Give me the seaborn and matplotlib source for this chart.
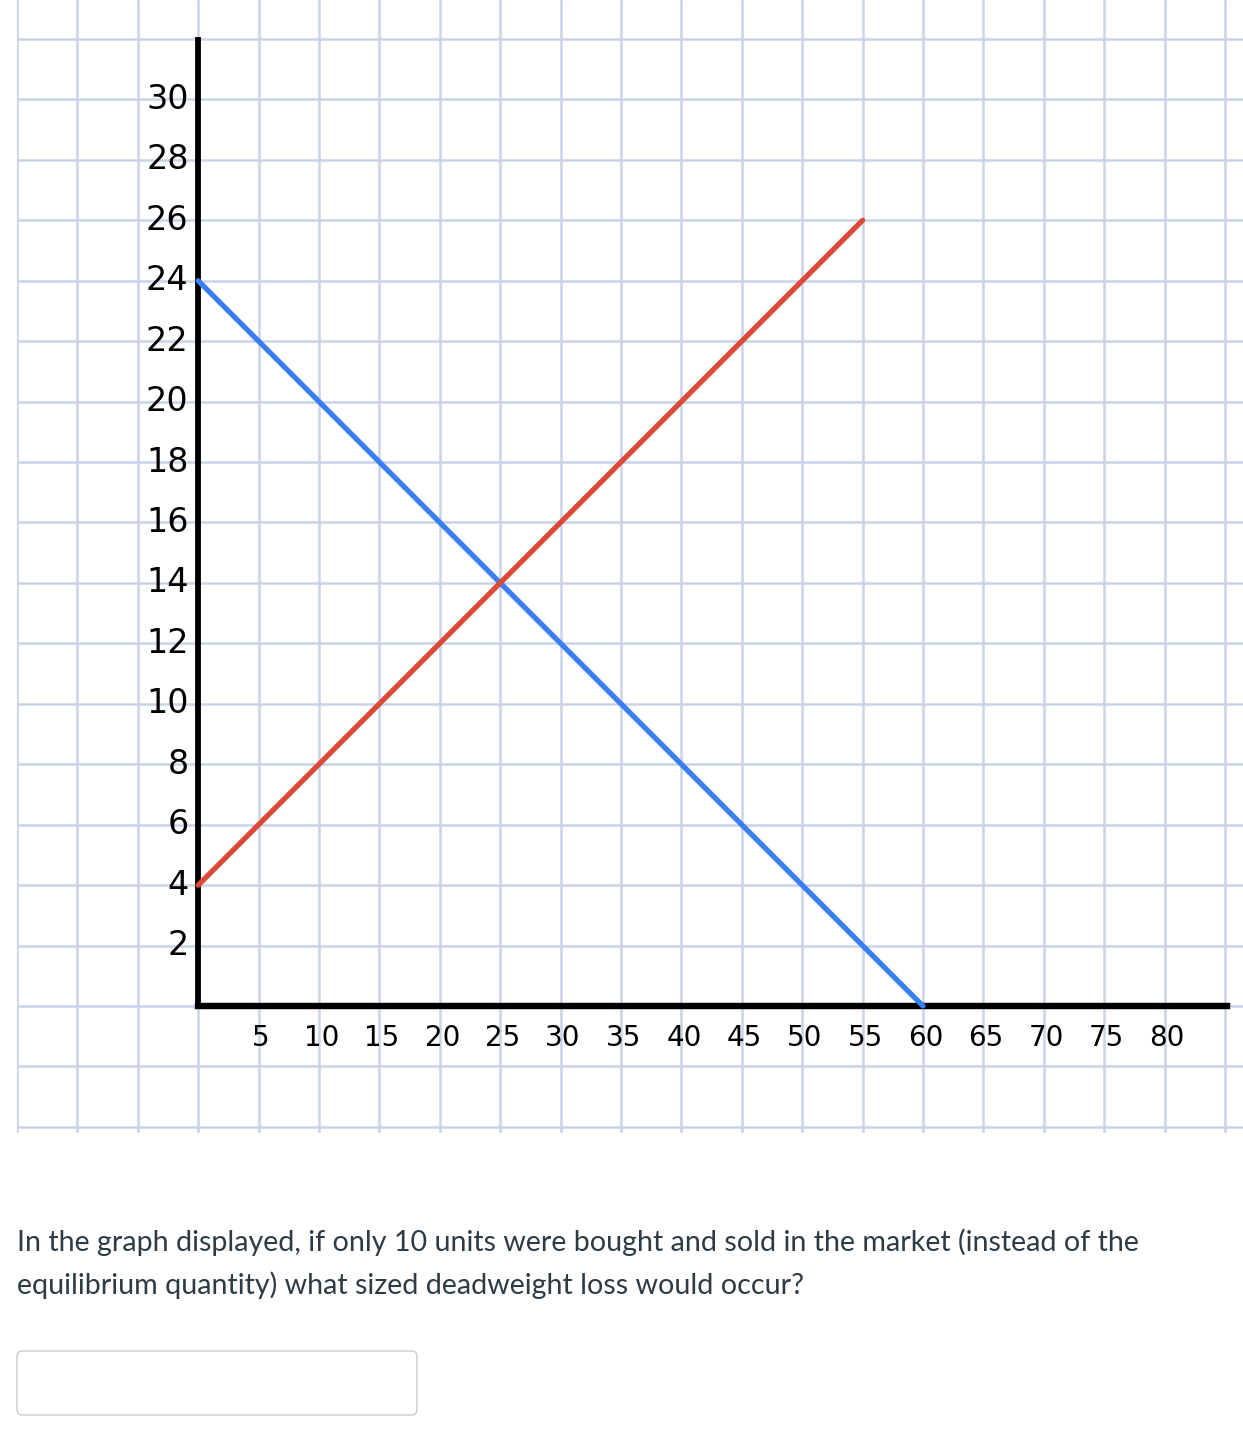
import numpy as np
import pandas as pd
import matplotlib
matplotlib.use("Agg")
import matplotlib.pyplot as plt
import seaborn as sns
from matplotlib.patches import FancyBboxPatch

# ------------------------------
# Data
# ------------------------------
demand_q = [0, 60]
demand_p = [24, 0]
supply_q = [0, 55]
supply_p = [4, 26]

x_ticks = [5, 10, 15, 20, 25, 30, 35, 40, 45, 50, 55, 60, 65, 70, 75, 80]
x_labels = [str(v) for v in x_ticks]
y_ticks = [2, 4, 6, 8, 10, 12, 14, 16, 18, 20, 22, 24, 26, 28, 30]
y_labels = [str(v) for v in y_ticks]

question = ("In the graph displayed, if only 10 units were bought and sold in the market (instead of the\n"
            "equilibrium quantity) what sized deadweight loss would occur?")

df = pd.concat([
    pd.DataFrame({"q": demand_q, "p": demand_p, "curve": "Demand"}),
    pd.DataFrame({"q": supply_q, "p": supply_p, "curve": "Supply"}),
], ignore_index=True)

# ------------------------------
# Figure / grid paper
# ------------------------------
sns.set_style("white")
W, H = 1243, 1432
fig = plt.figure(figsize=(W / 100, H / 100), dpi=100)

# axes covers the grid paper area (pixel box 17..1243 x 0..1133)
ax = fig.add_axes([17 / W, 1 - 1133 / H, (W - 17) / W, 1133 / H])
px_x = 60.4 / 5     # pixels per unit of quantity
px_y = 60.44 / 2    # pixels per unit of price
x0_px, y0_px = 198.2, 1006
ax.set_xlim((17 - x0_px) / px_x, (W - x0_px) / px_x)
ax.set_ylim(-(1133 - y0_px) / px_y, y0_px / px_y)

ax.set_xticks(np.arange(-15, 90, 5))
ax.set_yticks(np.arange(-4, 34, 2))
ax.grid(True, color="#cbd3e8", lw=1.8)
ax.tick_params(length=0, labelbottom=False, labelleft=False)
for s in ax.spines.values():
    s.set_visible(False)

# black axes
ax.plot([0, 0], [0, 32.05], color="black", lw=4.2, solid_capstyle="butt")
ax.plot([0, 85.2], [0, 0], color="black", lw=4.6, solid_capstyle="projecting")

sns.lineplot(data=df, x="q", y="p", hue="curve", palette={"Demand": "#3a7ef3", "Supply": "#db4a39"},
             linewidth=3.8, legend=False, ax=ax, sort=False)
ax.set_xlabel("")
ax.set_ylabel("")

for v, lab in zip(y_ticks, y_labels):
    ax.text(-0.8, v, lab, ha="right", va="center", fontsize=24, color="black")
for v, lab in zip(x_ticks, x_labels):
    ax.text(v + 0.2, -1.05, lab, ha="center", va="center", fontsize=20, color="black")

# ------------------------------
# Question text and answer box
# ------------------------------
fig.text(17 / W, 1 - 1228 / H, question, ha="left", va="top", fontsize=20.6,
         family=["Lato", "DejaVu Sans"], color="#2d3b45", linespacing=1.7)

box = FancyBboxPatch((17 / W, 1 - 1415 / H), 400 / W, 64 / H,
                     boxstyle="round,pad=0,rounding_size=0.004",
                     transform=fig.transFigure, facecolor="white",
                     edgecolor="#c7cdd1", lw=1.0)
fig.patches.append(box)

fig.savefig("out.png", dpi=100)
